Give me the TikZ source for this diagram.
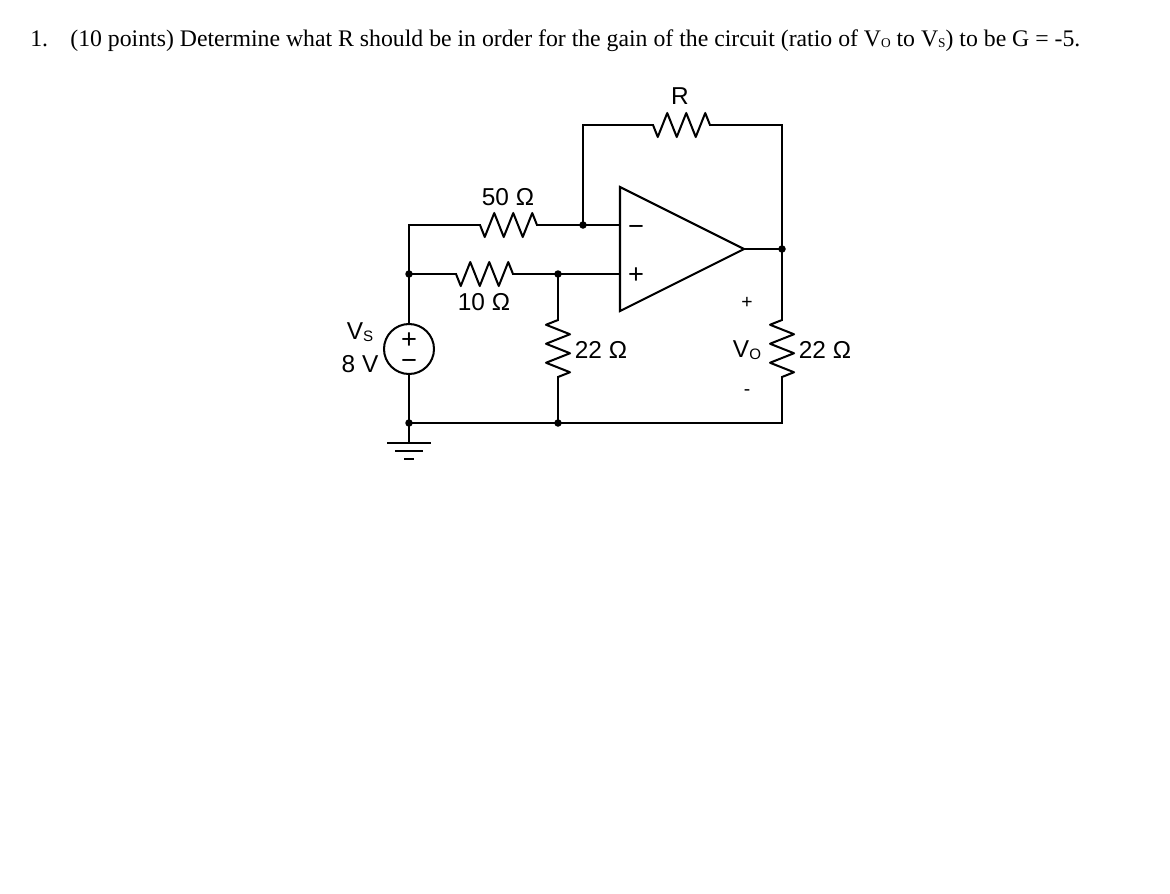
\documentclass[tikz,border=0pt]{standalone}
\usepackage{fontspec}
\setmainfont{Liberation Serif}
\newfontfamily\labelfont{Liberation Sans}
\usetikzlibrary{decorations.pathmorphing}

\newcommand{\subtxt}[1]{\raisebox{-0.8pt}{\fontsize{7.6}{9}\selectfont #1}}
\newcommand{\sublbl}[1]{\raisebox{-0.8pt}{\fontsize{8.6}{10}\selectfont #1}}

\tikzset{
        wire/.style={line width=1.15pt,line cap=rect,line join=miter},
        res/.style={line cap=butt,line join=round,decorate,decoration={zigzag,mirror,segment length=0.38cm,amplitude=0.24cm}},
        dot/.style={circle,fill=black,inner sep=0pt,minimum size=0.15cm},
        lbl/.style={inner sep=0pt,font=\labelfont\fontsize{13.9}{16}\selectfont},
        sign/.style={inner sep=0pt,font=\labelfont\fontsize{15.5}{17}\selectfont},
        small/.style={inner sep=0pt,font=\labelfont\fontsize{11}{13}\selectfont},
        title/.style={inner sep=0pt,anchor=base west,font=\fontsize{13.52}{15}\selectfont}
}

\begin{document}
\begin{tikzpicture}[x=0.02cm,y=-0.02cm]
        \useasboundingbox (0, 0) rectangle (1170, 893);

        \node[title] at (30, 46)(num){1.};
        \node[title] at (70, 46)(question){(10 points) Determine what R should be in order for the gain of the circuit (ratio of V\subtxt{O} to V\subtxt{S}) to be G = -5.};

        \node[dot] at (409, 274)(left){};
        \node[dot] at (409, 423)(bottom){};
        \node[dot] at (558, 274)(plus){};
        \node[dot] at (558, 423)(bottomb){};
        \node[dot] at (583, 225)(minus){};
        \node[dot] at (782, 249)(out){};

        \node[draw,wire,circle,inner sep=0pt,minimum size=1cm] at (409, 349)(vs){};
        \node[sign,align=center,font=\labelfont\fontsize{15.5}{12}\selectfont] at (409, 351)(vspm){+\\−};

        \coordinate (cornera) at (409, 225);
        \coordinate (cornerb) at (583, 125);
        \coordinate (cornerc) at (782, 125);
        \coordinate (cornerd) at (782, 423);
        \coordinate (r50a) at (480, 225);
        \coordinate (r50b) at (537, 225);
        \coordinate (r10a) at (456, 274);
        \coordinate (r10b) at (513, 274);
        \coordinate (rfa) at (653, 125);
        \coordinate (rfb) at (710, 125);
        \coordinate (r22a) at (558, 320);
        \coordinate (r22b) at (558, 377);
        \coordinate (r22c) at (782, 320);
        \coordinate (r22d) at (782, 377);
        \coordinate (oa) at (620, 187);
        \coordinate (ob) at (620, 311);
        \coordinate (oc) at (744, 249);
        \coordinate (ominus) at (620, 225);
        \coordinate (oplus) at (620, 274);
        \coordinate (gnd) at (409, 443);

        \draw[wire,fill=white] (oa) -- (ob) -- (oc) -- cycle;
        \node[sign] at (636, 230)(omn){−};
        \node[sign] at (636, 276)(opl){+};

        \path[wire,draw]
        (left)edge (cornera)
        (cornera)edge (r50a)
        (r50a)edge [res] (r50b)
        (r50b)edge (minus)
        (minus)edge (ominus)
        (minus)edge (cornerb)
        (cornerb)edge (rfa)
        (rfa)edge [res] (rfb)
        (rfb)edge (cornerc)
        (cornerc)edge (out)
        (oc)edge (out)
        (out)edge (r22c)
        (r22c)edge [res] (r22d)
        (r22d)edge (cornerd)
        (cornerd)edge (bottomb)
        (bottomb)edge (bottom)
        (bottomb)edge (r22b)
        (r22b)edge [res] (r22a)
        (r22a)edge (plus)
        (plus)edge (oplus)
        (plus)edge (r10b)
        (r10b)edge [res] (r10a)
        (r10a)edge (left)
        (left)edge (vs)
        (vs)edge (bottom)
        (bottom)edge (gnd)
        ;

        \draw[wire] (388, 443) -- (430, 443);
        \draw[wire] (396, 451) -- (422, 451);
        \draw[wire] (405, 459) -- (413, 459);

        \node[lbl] at (508, 197)(l50){50 Ω};
        \node[lbl] at (484, 302)(l10){10 Ω};
        \node[lbl] at (680, 96)(lr){R};
        \node[lbl] at (601, 350)(l22a){22 Ω};
        \node[lbl] at (825, 350)(l22b){22 Ω};
        \node[lbl] at (360, 332)(lvs){V\sublbl{S}};
        \node[lbl] at (360, 364)(l8v){8 V};
        \node[lbl] at (747, 350)(lvo){V\sublbl{O}};
        \node[small] at (747, 303)(lp){+};
        \node[small] at (747, 393)(lm){-};
\end{tikzpicture}
\end{document}
